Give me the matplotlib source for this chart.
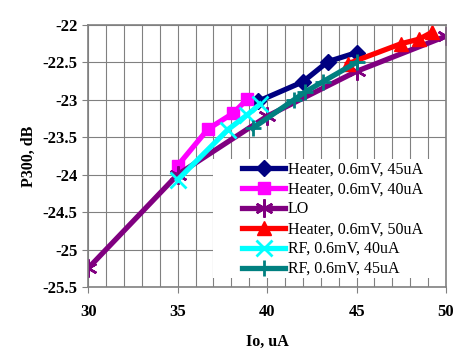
import matplotlib
matplotlib.use("Agg")
import matplotlib.pyplot as plt
from matplotlib.patches import Rectangle
from matplotlib.ticker import MultipleLocator, FuncFormatter

# data
heater45_x = [39.5, 42.0, 43.4, 45.0]
heater45_y = [-23.02, -22.76, -22.49, -22.37]

heater40_x = [35.0, 36.7, 38.1, 38.9]
heater40_y = [-23.88, -23.39, -23.18, -22.99]

lo_x = [30, 35, 40, 45, 50]
lo_y = [-25.25, -24.0, -23.22, -22.62, -22.15]

heater50_x = [44.5, 47.5, 48.5, 49.2]
heater50_y = [-22.52, -22.25, -22.19, -22.1]

rf40_x = [35.0, 37.8, 38.9, 39.6]
rf40_y = [-24.07, -23.4, -23.2, -23.06]

rf45_x = [39.2, 41.5, 42.1, 43.1, 45.0]
rf45_y = [-23.38, -23.0, -22.9, -22.76, -22.5]

plt.rcParams['font.family'] = ['Liberation Serif', 'DejaVu Serif']
plt.rcParams['axes.unicode_minus'] = False

fig = plt.figure(figsize=(4.74, 3.56), dpi=100)
ax = fig.add_axes([0.186, 0.194, 0.755, 0.736])

lw = 3.8
ax.plot(heater45_x, heater45_y, color='#000080', lw=lw, marker='D', ms=8,
        label="Heater, 0.6mV, 45uA")
ax.plot(heater40_x, heater40_y, color='#ff00ff', lw=lw, marker='s', ms=8,
        label="Heater, 0.6mV, 40uA")
ax.plot(lo_x, lo_y, color='#800080', lw=lw, marker=(6, 2, 0), ms=13, mew=1.8,
        label="LO")
ax.plot(heater50_x, heater50_y, color='#ff0000', lw=lw, marker='^', ms=10,
        label="Heater, 0.6mV, 50uA")
ax.plot(rf40_x, rf40_y, color='#00ffff', lw=lw, marker='x', ms=11, mew=2,
        label="RF, 0.6mV, 40uA")
ax.plot(rf45_x, rf45_y, color='#008080', lw=lw, marker='+', ms=12, mew=2,
        label="RF, 0.6mV, 45uA")

ax.set_xlim(30, 50)
ax.set_ylim(-25.5, -22)
ax.xaxis.set_major_locator(MultipleLocator(5))
ax.xaxis.set_minor_locator(MultipleLocator(1))
ax.yaxis.set_major_locator(MultipleLocator(0.5))
ax.yaxis.set_major_formatter(FuncFormatter(lambda v, p: f"{v:g}"))
ax.grid(True, which='both', axis='x', color='#808080', lw=0.8)
ax.grid(True, which='major', axis='y', color='#808080', lw=0.8)
ax.set_axisbelow(True)
for s in ax.spines.values():
    s.set_color('#808080')
    s.set_linewidth(1.2)
ax.tick_params(axis='both', which='major', labelsize=12, length=4, color='#808080')
ax.tick_params(axis='x', which='minor', length=0)
for lab in ax.get_xticklabels() + ax.get_yticklabels():
    lab.set_fontweight('bold')
ax.tick_params(axis='x', pad=8)

ax.set_xlabel("Io, uA", fontsize=11.5, fontweight='bold', labelpad=10)
ax.set_ylabel("P300, dB", fontsize=11.5, fontweight='bold', labelpad=4)

# white legend area (Excel-style) hiding the grid
ax.add_patch(Rectangle((0.35, 0.034), 0.65, 0.455, transform=ax.transAxes,
                       facecolor='white', edgecolor='none', zorder=1))

leg = ax.legend(loc='upper left', bbox_to_anchor=(0.43, 0.48), fontsize=11.5,
                numpoints=1, handlelength=2.7, handletextpad=0.15,
                labelspacing=0.25, borderpad=0, borderaxespad=0,
                frameon=False)

fig.savefig("out.png", dpi=100)
